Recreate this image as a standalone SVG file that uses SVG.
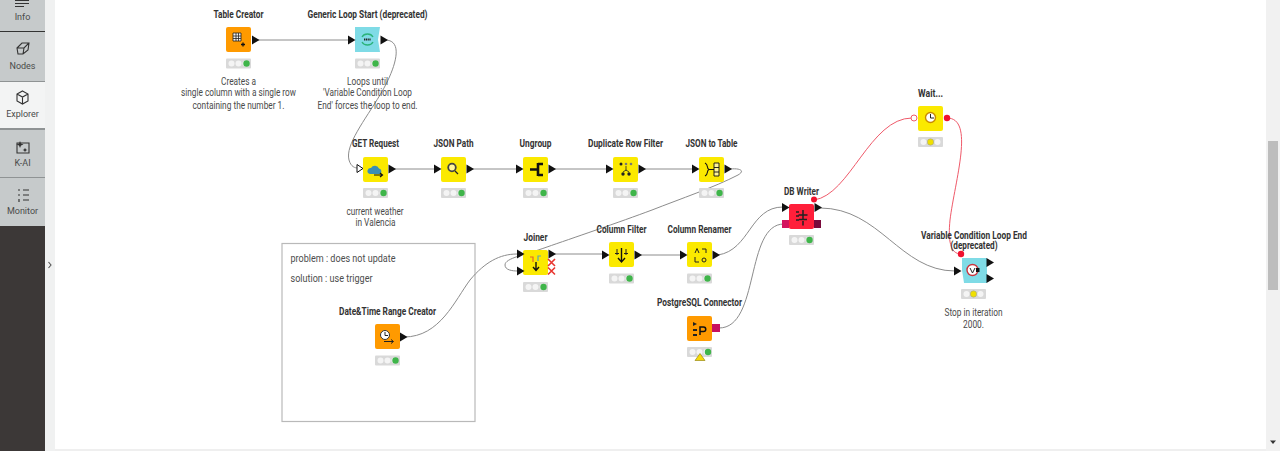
<svg xmlns="http://www.w3.org/2000/svg" xmlns:xlink="http://www.w3.org/1999/xlink" width="1280" height="451" viewBox="0 0 1280 451">
<style>
text{font-family:Roboto,"Liberation Sans",sans-serif}
.t{font-size:10.5px;font-weight:700;fill:#333;text-anchor:middle}
.d{font-size:10.5px;fill:#4a4a4a;text-anchor:middle}
.a{font-size:10.5px;fill:#4d4d4d}
.s{font-size:9px;fill:#4a4a4a;text-anchor:middle}
.box{stroke:none}
.y{fill:#fbe900}.o{fill:#ff9a00}.c{fill:#7fdbe6}.r{fill:#ff1f3a}
.conn{fill:none;stroke:#8c8c8c;stroke-width:1}
.var{fill:none;stroke:#ef5a6a;stroke-width:1}
.icf{fill:#222}
</style>
<defs>
<path id="arr" d="M0 -4.5L7.5 0L0 4.5Z" fill="#111"/>
<g id="st"><rect width="25" height="10" rx="1" fill="#d9d9d9"/><circle cx="5.500" cy="5" r="3" fill="#f4f4f4"/><circle cx="12.500" cy="5" r="3" fill="#f4f4f4"/><circle cx="19.500" cy="5" r="3" fill="#f4f4f4"/></g>
<circle id="g" r="3.200" fill="#3fb54a"/>
<path id="x" d="M-3.500 -3.500L3.500 3.500M3.500 -3.500L-3.500 3.500" stroke="#e8352f" stroke-width="1.600" fill="none"/>
</defs>

<rect width="1280" height="451" fill="#fff"/>

<g id="sidebar">
<rect x="45" y="0" width="10" height="451" fill="#f0f1f1"/>
<rect x="0" y="0" width="45" height="31" fill="#c6cacb"/>
<rect x="0" y="31" width="45" height="1" fill="#333"/>
<rect x="0" y="32" width="45" height="49" fill="#c6cacb"/>
<rect x="0" y="81" width="45" height="1" fill="#8f9394"/>
<rect x="0" y="82" width="45" height="46" fill="#f3f4f4"/>
<rect x="0" y="128" width="45" height="2" fill="#8f9394"/>
<rect x="0" y="130" width="45" height="47" fill="#c6cacb"/>
<rect x="0" y="177" width="45" height="1" fill="#8f9394"/>
<rect x="0" y="178" width="45" height="48" fill="#c6cacb"/>
<rect x="0" y="226" width="45" height="225" fill="#3c3837"/>
<path d="M15 0.500H29M15 3.500H29M15 6.500H24" stroke="#333" stroke-width="1.100" fill="none"/>
<path d="M17 48L22 43H29L28 50L23 54H18Z M17 48H24L29 43M24 48L23 54" stroke="#333" stroke-width="1.100" fill="none"/>
<path d="M22.500 91L28 94V101L22.500 104L17 101V94Z M17 94L22.500 97L28 94M22.500 97V104" stroke="#333" stroke-width="1.100" fill="none"/>
<path d="M17 143H29V153H17Z" stroke="#333" stroke-width="1.100" fill="none"/><path d="M20 141L21 143.500L23.500 144.500L21 145.500L20 148L19 145.500L16.500 144.500L19 143.500Z M25 148L26 149.500L27.500 150L26 150.500L25 152L24 150.500L22.500 150L24 149.500Z" fill="#333"/>
<path d="M18 190H20M18 195H20M19 199V202M23 190H29M23 195H29M23 200H29" stroke="#333" stroke-width="1.200" fill="none"/>
<text class="s" x="22.500" y="20">Info</text>
<text class="s" x="22.500" y="69">Nodes</text>
<text class="s" x="22.500" y="117">Explorer</text>
<text class="s" x="22.500" y="166">K-AI</text>
<text class="s" x="22.500" y="214">Monitor</text>
<path d="M48.500 262L51 265L48.500 268" stroke="#555" stroke-width="1.100" fill="none"/>
</g>

<g id="chrome">
<rect x="1266" y="0" width="14" height="451" fill="#f1f1f1"/>
<rect x="1268" y="141" width="10" height="149" fill="#bdbdbd"/>
<path d="M1270 440.500H1276L1273 444Z" fill="#333"/>
<rect x="55" y="449" width="1211" height="2" fill="#efefef"/>
</g>

<g id="annotation">
<rect x="282" y="243.500" width="193" height="178" fill="#fff" stroke="#b9b9b9" stroke-width="1.200"/>
<text class="a" x="290.500" y="262" textLength="105" lengthAdjust="spacingAndGlyphs">problem : does not update</text>
<text class="a" x="290.500" y="282" textLength="82" lengthAdjust="spacingAndGlyphs">solution : use trigger</text>
</g>

<g id="connectors">
<path class="conn" d="M257 40H349"/>
<path class="conn" d="M385 40C405 40 395 70 380 95C365 120 345 145 349 160C351 167 355 168 358 168"/>
<path class="conn" d="M394 169H435"/>
<path class="conn" d="M472 169H517"/>
<path class="conn" d="M554 169H607"/>
<path class="conn" d="M644 169H693"/>
<path class="conn" d="M730 169C741 168 745 171 738 175C715 187 680 199 652 210C620 222 570 239 547 247C525 255 505 258 505 265C505 270 512 271 518 271"/>
<path class="conn" d="M404 337C440 337 455 300 470 280C485 262 500 254 517 254"/>
<path class="conn" d="M553 254H602"/>
<path class="conn" d="M640 255H681"/>
<path class="conn" d="M718 255C750 250 750 207 783 207"/>
<path class="conn" d="M719 328C760 328 745 224 784 224"/>
<path class="conn" d="M820 208C880 208 900 271 955 271"/>
<path class="var" d="M814 200C850 195 870 118 912 118"/>
<path class="var" d="M947 118C975 118 955 180 950 220C948 240 950 254 961 254"/>
</g>

<g id="node-table-creator">
<text class="t" x="238.500" y="18" textLength="50" lengthAdjust="spacingAndGlyphs">Table Creator</text>
<rect class="box o" x="226" y="27" width="25" height="25" rx="2"/>
<path d="M233 33H241V41H233ZM233 36H241M233 38.500H241M236 33V41M238.500 33V41" stroke="#222" stroke-width=".8" fill="#f5f5f5"/>
<path d="M243 42.500V46.500M241 44.500H245" stroke="#111" stroke-width="1.300"/>
<use href="#arr" x="252" y="40"/>
<use href="#st" x="226" y="58.500"/><use href="#g" x="246.500" y="63.500"/>
<text class="d" x="238.500" y="85" textLength="35" lengthAdjust="spacingAndGlyphs">Creates a</text>
<text class="d" x="238.500" y="96" textLength="115" lengthAdjust="spacingAndGlyphs">single column with a single row</text>
<text class="d" x="238.500" y="109" textLength="92" lengthAdjust="spacingAndGlyphs">containing the number 1.</text>
</g>

<g id="node-generic-loop-start">
<text class="t" x="367.500" y="18" textLength="120" lengthAdjust="spacingAndGlyphs">Generic Loop Start (deprecated)</text>
<path class="box c" d="M355 27H380L378 39.500L380 52H355Z"/>
<path d="M362 37A6 5 0 0 1 373 37M373 42A6 5 0 0 1 362 42" stroke="#2bb37a" stroke-width="1.300" fill="none"/>
<path d="M364 39.500H371" stroke="#222" stroke-width="1.800" stroke-dasharray="1.200 .6"/>
<use href="#arr" x="348" y="40"/>
<use href="#arr" x="380.500" y="40"/>
<use href="#st" x="355" y="58.500"/><use href="#g" x="375.500" y="63.500"/>
<text class="d" x="367.500" y="85" textLength="41" lengthAdjust="spacingAndGlyphs">Loops until</text>
<text class="d" x="367.500" y="96" textLength="89" lengthAdjust="spacingAndGlyphs">'Variable Condition Loop</text>
<text class="d" x="367.500" y="109" textLength="100" lengthAdjust="spacingAndGlyphs">End' forces the loop to end.</text>
</g>

<g id="node-get-request">
<text class="t" x="375.500" y="147" textLength="47" lengthAdjust="spacingAndGlyphs">GET Request</text>
<rect class="box y" x="363" y="157" width="25" height="25" rx="2"/>
<path d="M370 174A3 3 0 0 1 371 168A4.500 4.500 0 0 1 379 168.500A3 3 0 0 1 380 174Z" fill="#3a8fb5"/>
<path d="M374 175H382M380 173L382.500 175L380 177" stroke="#111" stroke-width="1.200" fill="none"/>
<path d="M357 164.500L363 168.500L357 172.500Z" fill="#fff" stroke="#111" stroke-width="1"/>
<use href="#arr" x="388.500" y="169"/>
<use href="#st" x="363" y="188"/><use href="#g" x="383.500" y="193"/>
<text class="d" x="375" y="215" textLength="57" lengthAdjust="spacingAndGlyphs">current weather</text>
<text class="d" x="375.500" y="226" textLength="40" lengthAdjust="spacingAndGlyphs">in Valencia</text>
</g>

<g id="node-json-path">
<text class="t" x="453.500" y="147" textLength="40" lengthAdjust="spacingAndGlyphs">JSON Path</text>
<rect class="box y" x="441" y="157" width="25" height="25" rx="2"/>
<circle cx="452" cy="167.500" r="3.800" fill="#fff59a" stroke="#444" stroke-width="1.800"/>
<path d="M455 171L458 174" stroke="#222" stroke-width="1.200"/>
<use href="#arr" x="434" y="169"/><use href="#arr" x="466.500" y="169"/>
<use href="#st" x="441" y="188"/><use href="#g" x="461.500" y="193"/>
</g>

<g id="node-ungroup">
<text class="t" x="535.500" y="147" textLength="32" lengthAdjust="spacingAndGlyphs">Ungroup</text>
<rect class="box y" x="523" y="157" width="25" height="25" rx="2"/>
<path d="M530 169.500H537M538 164H543M538 175H543M538 163V176" stroke="#111" stroke-width="2.600" fill="none"/>
<use href="#arr" x="516" y="169"/><use href="#arr" x="548.500" y="169"/>
<use href="#st" x="523" y="188"/><use href="#g" x="543.500" y="193"/>
</g>

<g id="node-duplicate-row-filter">
<text class="t" x="625.500" y="147" textLength="75" lengthAdjust="spacingAndGlyphs">Duplicate Row Filter</text>
<rect class="box y" x="613" y="157" width="25" height="25" rx="2"/>
<circle cx="621" cy="164" r="1.500" class="icf"/><circle cx="626" cy="164" r="1.300" fill="#777"/><circle cx="631" cy="164" r="1.300" fill="#777"/><circle cx="623" cy="174" r="1.700" class="icf"/><circle cx="629" cy="174" r="1.700" class="icf"/>
<path d="M626 166V171M623 172L626 170L629 172" stroke="#222" stroke-width=".8" fill="none"/>
<use href="#arr" x="606" y="169"/><use href="#arr" x="638.500" y="169"/>
<use href="#st" x="613" y="188"/><use href="#g" x="633.500" y="193"/>
</g>

<g id="node-json-to-table">
<text class="t" x="711.500" y="147" textLength="52" lengthAdjust="spacingAndGlyphs">JSON to Table</text>
<rect class="box y" x="699" y="157" width="25" height="25" rx="2"/>
<path d="M705 163C709 165 706 168 709 169.500C706 171 709 174 705 176M709 169.500H714" stroke="#111" stroke-width="1.100" fill="none"/>
<path d="M714 163H719V176H714ZM714 167.500H719M714 172H719" stroke="#111" stroke-width=".9" fill="#fff59a"/>
<use href="#arr" x="692" y="169"/><use href="#arr" x="724.500" y="169"/>
<use href="#st" x="699" y="188"/><use href="#g" x="719.500" y="193"/>
</g>

<g id="node-joiner">
<text class="t" x="535.500" y="241" textLength="24" lengthAdjust="spacingAndGlyphs">Joiner</text>
<rect class="box y" x="523" y="250" width="25" height="25" rx="2"/>
<path d="M530 257H533V262" stroke="#e8662a" stroke-width="1.200" fill="none"/>
<path d="M541 256H538V261" stroke="#5aa9b0" stroke-width="1.200" fill="none"/>
<path d="M536 262V270M533 267L536 270.500L539 267" stroke="#111" stroke-width="1.400" fill="none"/>
<use href="#arr" x="517" y="254"/><use href="#arr" x="517" y="271"/><use href="#arr" x="548.500" y="254"/>
<use href="#x" x="551.500" y="262.500"/><use href="#x" x="551.500" y="271"/>
<use href="#st" x="523" y="282"/><use href="#g" x="543.500" y="287"/>
</g>

<g id="node-column-filter">
<text class="t" x="621.500" y="233" textLength="50" lengthAdjust="spacingAndGlyphs">Column Filter</text>
<rect class="box y" x="609" y="242" width="25" height="25" rx="2"/>
<path d="M621.500 248V261M618 258L621.500 262L625 258" stroke="#111" stroke-width="1.400" fill="none"/>
<path d="M617 249V255M626 249V255M615 253.500H619M624 253.500H628" stroke="#222" stroke-width="1" fill="none"/>
<use href="#arr" x="602" y="255"/><use href="#arr" x="634.500" y="255"/>
<use href="#st" x="609" y="273.500"/><use href="#g" x="629.500" y="278.500"/>
</g>

<g id="node-column-renamer">
<text class="t" x="699.500" y="233" textLength="64" lengthAdjust="spacingAndGlyphs">Column Renamer</text>
<rect class="box y" x="687" y="242" width="25" height="25" rx="2"/>
<path d="M695 253L697 248.500L699 253M702 249H706V253M695 257V262H699M702 260A2 2 0 1 0 706 260A2 2 0 1 0 702 260" stroke="#222" stroke-width="1" fill="none"/>
<use href="#arr" x="680" y="255"/><use href="#arr" x="712.500" y="255"/>
<use href="#st" x="687" y="273.500"/><use href="#g" x="707.500" y="278.500"/>
</g>

<g id="node-postgresql-connector">
<text class="t" x="699.500" y="306" textLength="85" lengthAdjust="spacingAndGlyphs">PostgreSQL Connector</text>
<rect class="box o" x="687" y="316" width="25" height="25" rx="2"/>
<path d="M693 322L697 324L693 326ZM693 329H697V331H693ZM693 334H697V336H693Z" fill="#222"/>
<path d="M700 335V327H703.500A2 2 0 0 1 703.500 331.500H700" stroke="#111" stroke-width="1.500" fill="none"/>
<rect x="712" y="324" width="8" height="8" fill="#c8105f"/>
<use href="#st" x="687" y="347"/><use href="#g" x="708" y="352"/>
<path d="M700 353.500L705 360.500H695Z" fill="#f5d90a" stroke="#8a7a00" stroke-width=".6"/>
</g>

<g id="node-db-writer">
<text class="t" x="801.500" y="195" textLength="35" lengthAdjust="spacingAndGlyphs">DB Writer</text>
<rect class="box r" x="789" y="204" width="25" height="25" rx="2"/>
<path d="M803 210V220M798.500 215H807.500M799 219.500H807M803 221V225.500" stroke="#222" stroke-width="1.500" fill="none"/>
<path d="M796 212H799M796 216H799M796 220H799" stroke="#222" stroke-width="1.500"/>
<use href="#arr" x="782" y="207.500"/><use href="#arr" x="814.500" y="207.500"/>
<rect x="782" y="220" width="7" height="8" fill="#d4145f"/>
<rect x="814" y="220" width="7" height="8" fill="#7a0b3c"/>
<circle cx="814" cy="199.500" r="3" fill="#f01230"/>
<use href="#st" x="789" y="235"/><use href="#g" x="809.500" y="240"/>
</g>

<g id="node-wait">
<text class="t" x="930.500" y="97" textLength="25" lengthAdjust="spacingAndGlyphs">Wait...</text>
<rect class="box y" x="918" y="106" width="25" height="25" rx="2"/>
<circle cx="930.500" cy="117.500" r="5" fill="#fff" stroke="#c98a00" stroke-width="1.400"/>
<path d="M930.500 114V118H934" stroke="#222" stroke-width="1" fill="none"/>
<circle cx="914" cy="118" r="3" fill="#fff" stroke="#ef5a6a" stroke-width="1"/>
<circle cx="947" cy="118" r="3.200" fill="#f01230"/>
<use href="#st" x="918" y="137"/><circle cx="930.500" cy="142" r="3.200" fill="#f0e000" stroke="#999" stroke-width=".5"/>
</g>

<g id="node-variable-condition-loop-end">
<text class="t" x="974" y="238.500"><tspan x="974" textLength="106" lengthAdjust="spacingAndGlyphs">Variable Condition Loop End</tspan><tspan x="974" dy="10.500" textLength="47" lengthAdjust="spacingAndGlyphs">(deprecated)</tspan></text>
<path class="box c" d="M962 258H987V283H964L962 270Z"/>
<circle cx="972.500" cy="270" r="5.500" fill="#fff" stroke="#c9353f" stroke-width="1.400"/>
<path d="M970 268L972.500 273L975 268" stroke="#222" stroke-width="1" fill="none"/>
<rect x="976" y="268" width="3.500" height="4" fill="#111"/>
<use href="#arr" x="954" y="271"/><use href="#arr" x="986.500" y="262.500"/><use href="#arr" x="986.500" y="278.500"/>
<circle cx="961" cy="254" r="3.200" fill="#f01230"/>
<use href="#st" x="961" y="289"/><circle cx="973.500" cy="294" r="3.200" fill="#f0e000" stroke="#999" stroke-width=".5"/>
<text class="d" x="973.500" y="316" textLength="58" lengthAdjust="spacingAndGlyphs">Stop in iteration</text>
<text class="d" x="973.500" y="328" textLength="21" lengthAdjust="spacingAndGlyphs">2000.</text>
</g>

<g id="node-date-time-range-creator">
<text class="t" x="387.500" y="315" textLength="97" lengthAdjust="spacingAndGlyphs">Date&amp;Time Range Creator</text>
<rect class="box o" x="375" y="324" width="25" height="25" rx="2"/>
<circle cx="385" cy="335" r="4.500" fill="#fff" stroke="#333" stroke-width="1"/>
<path d="M385 332V335.500H388M384 341.500H393M391 339.500L393.500 341.500L391 343.500" stroke="#222" stroke-width="1" fill="none"/>
<use href="#arr" x="400" y="337"/>
<use href="#st" x="375" y="355.500"/><use href="#g" x="395.500" y="360.500"/>
</g>
</svg>
